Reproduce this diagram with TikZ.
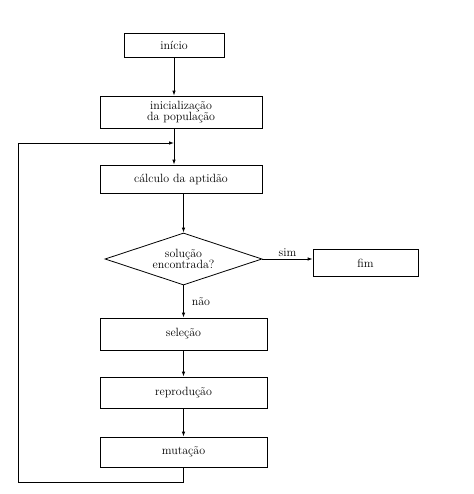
\documentclass[tikz,border=0pt]{standalone}
\usepackage{tikz}
\usetikzlibrary{arrows.meta,shapes.geometric}
\tikzset{>={Latex[length=5pt,width=3.5pt]}}
\tikzset{
	passo/.style={draw, line width=0.8bp, rectangle, align=center, inner sep=2pt,
			font=\fontsize{12}{13}\selectfont},
	decisao/.style={draw, line width=0.8bp, diamond, aspect=3, inner sep=0pt, align=center,
			minimum width=157bp, minimum height=52bp, font=\fontsize{12}{13}\selectfont},
	rotulo/.style={font=\fontsize{12}{13}\selectfont, inner sep=2pt}
}
\begin{document}
\begin{tikzpicture}[x=1bp,y=-1bp,line width=0.8bp]
		\useasboundingbox (0,0) rectangle (474,494);

		% blocos
		\node[passo, minimum width=100bp, minimum height=24bp] (inicio) at (174,45) {início};
		\node[passo, minimum width=162bp, minimum height=32bp] (init) at (181,112) {inicialização\\[-2pt]da população};
		\node[passo, minimum width=162bp, minimum height=28bp] (calc) at (181,179) {cálculo da aptidão};
		\node[decisao] (sol) at (183.5,259) {solução\\[-2pt]encontrada?};
		\node[passo, minimum width=105bp, minimum height=27bp] (fim) at (365.5,263) {fim};
		\node[passo, minimum width=167bp, minimum height=32bp] (sel) at (183.5,334) {seleção};
		\node[passo, minimum width=167bp, minimum height=31bp] (rep) at (183.5,392.5) {reprodução};
		\node[passo, minimum width=167bp, minimum height=30bp] (mut) at (183.5,452) {mutação};

		% ligacoes
		\draw[->] (inicio.south) -- (init.north -| inicio);
		\draw[->] (init.south -| inicio) -- (calc.north -| inicio);
		\draw[->] (calc.south -| sol) -- (sol.north);
		\draw[->] (sol.east) -- (fim.west |- sol.east) node[rotulo, midway, above] {sim};
		\draw[->] (sol.south) -- (sel.north) node[rotulo, midway, right, xshift=6pt] {não};
		\draw[->] (sel.south) -- (rep.north);
		\draw[->] (rep.south) -- (mut.north);

		% volta
		\coordinate (canto) at (18,482);
		\coordinate (volta) at (18,143);
		\draw[->] (mut.south) |- (canto) |- (volta -| inicio);
	\end{tikzpicture}
\end{document}
